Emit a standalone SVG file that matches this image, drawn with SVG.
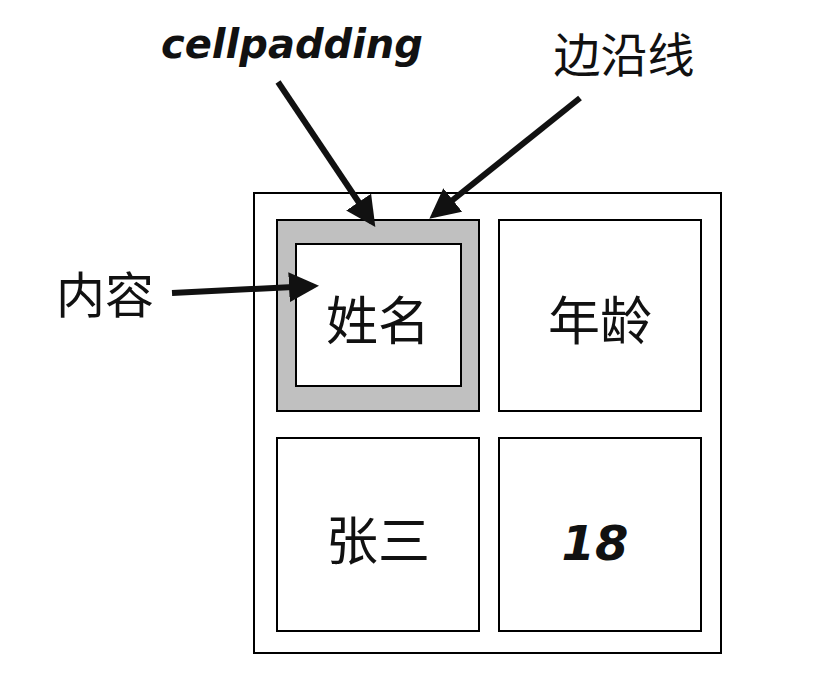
<svg xmlns="http://www.w3.org/2000/svg" width="815" height="687" viewBox="0 0 815 687">
<style>
.cell{fill:#fff;stroke:#000;stroke-width:2}
.cjk{font-family:"Noto Sans CJK SC",sans-serif;text-anchor:middle;fill:#111}
.arr{stroke:#111;stroke-width:6;fill:none;marker-end:url(#ah)}
</style>
<defs>
<marker id="ah" markerWidth="5" markerHeight="5" refX="4" refY="2.5" orient="auto" markerUnits="strokeWidth">
<path d="M0,0 L5,2.5 L0,5 Z" fill="#111"/>
</marker>
</defs>
<rect width="815" height="687" fill="#fff"/>
<g id="table">
<rect x="254" y="193" width="467" height="460" class="cell"/>
</g>
<g id="cell-name">
<rect x="277" y="220" width="202" height="191" fill="#c0c0c0" stroke="#000" stroke-width="2"/>
<rect x="296" y="244" width="165" height="142" class="cell"/>
<text x="378" y="340" font-size="52" class="cjk">姓名</text>
</g>
<g id="cell-age">
<rect x="499" y="220" width="202" height="191" class="cell"/>
<text x="600" y="340" font-size="52" class="cjk">年龄</text>
</g>
<g id="cell-zhang">
<rect x="277" y="438" width="202" height="193" class="cell"/>
<text x="378" y="560" font-size="52" class="cjk">张三</text>
</g>
<g id="cell-18">
<rect x="499" y="438" width="202" height="193" class="cell"/>
<text x="595" y="560" font-size="48" font-weight="bold" font-style="italic" font-family="DejaVu Sans, sans-serif" text-anchor="middle" fill="#111">18</text>
</g>
<g id="labels">
<text x="292" y="58" font-size="40" font-weight="bold" font-style="italic" font-family="DejaVu Sans, sans-serif" text-anchor="middle" fill="#111">cellpadding</text>
<text x="624" y="72" font-size="47" class="cjk">边沿线</text>
<text x="105" y="313" font-size="49" class="cjk">内容</text>
</g>
<g id="connectors">
<line x1="278" y1="82" x2="372" y2="222" class="arr"/>
<line x1="580" y1="98" x2="434" y2="215" class="arr"/>
<line x1="172" y1="293" x2="313" y2="286" class="arr"/>
</g>
</svg>
